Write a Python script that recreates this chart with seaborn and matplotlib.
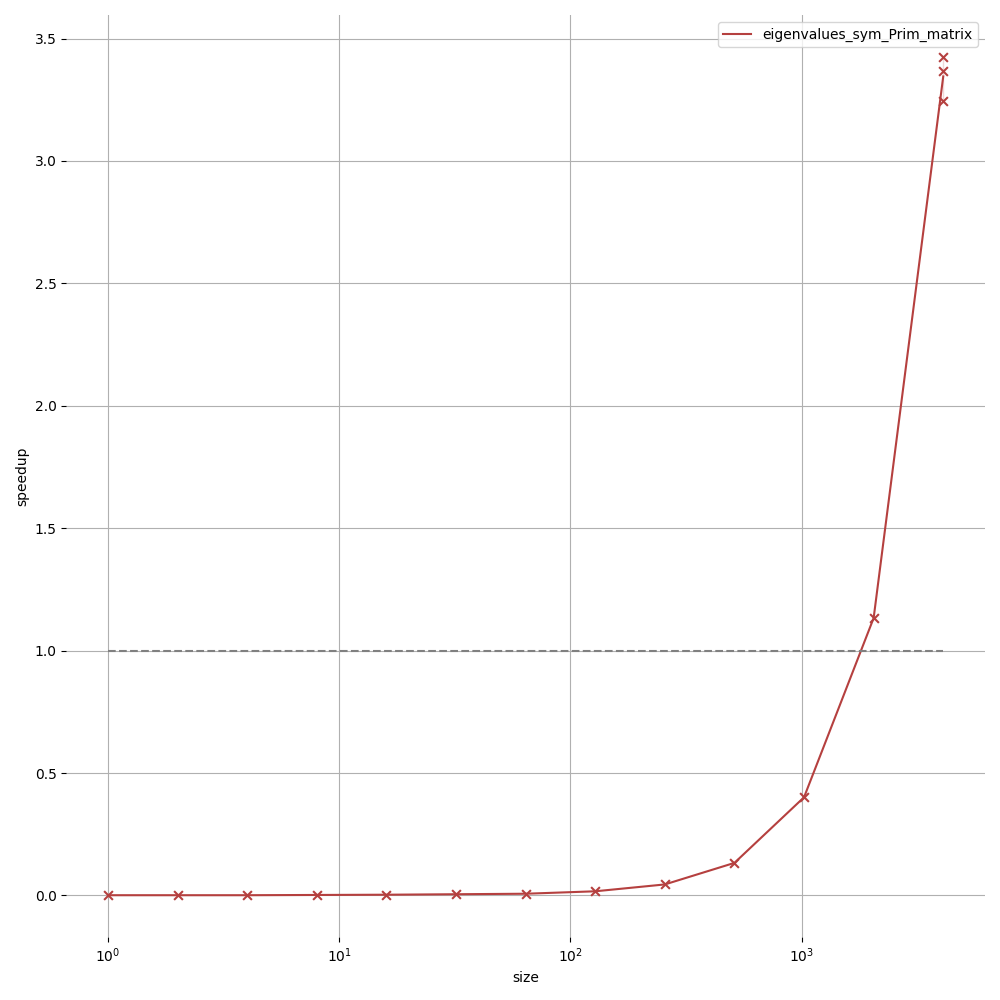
import numpy as np
import pandas as pd
import matplotlib
matplotlib.use("Agg")
import matplotlib.pyplot as plt
import seaborn as sns

# measured speedup per matrix size (repeated runs)
sizes = [1, 2, 4, 8, 16, 32, 64, 128, 256, 512, 1024, 2048, 4096, 4096, 4096]
speedup = [0.001, 0.001, 0.001, 0.002, 0.003, 0.005, 0.007, 0.017, 0.045, 0.133,
           0.401, 1.133, 3.425, 3.368, 3.243]
label = "eigenvalues_sym_Prim_matrix"
color = "#b5403f"

df = pd.DataFrame({"size": sizes, "speedup": speedup})

fig, ax = plt.subplots(figsize=(10, 10), dpi=100)
sns.lineplot(data=df, x="size", y="speedup", color=color, label=label, ax=ax)
sns.scatterplot(data=df, x="size", y="speedup", color=color, marker="x",
                s=40, linewidth=1.5, legend=False, ax=ax, zorder=3)
ax.hlines(1.0, min(sizes), max(sizes), colors="gray", linestyles="--", zorder=2)

ax.set_xscale("log")
ax.minorticks_off()
ax.grid(True, color="#b0b0b0")
ax.set_axisbelow(True)
sns.despine(ax=ax, left=True, bottom=True, top=True, right=True)
ax.legend(loc="upper right")
ax.set_xlabel("size")
ax.set_ylabel("speedup")

plt.tight_layout()
plt.savefig("out.png", dpi=100)
